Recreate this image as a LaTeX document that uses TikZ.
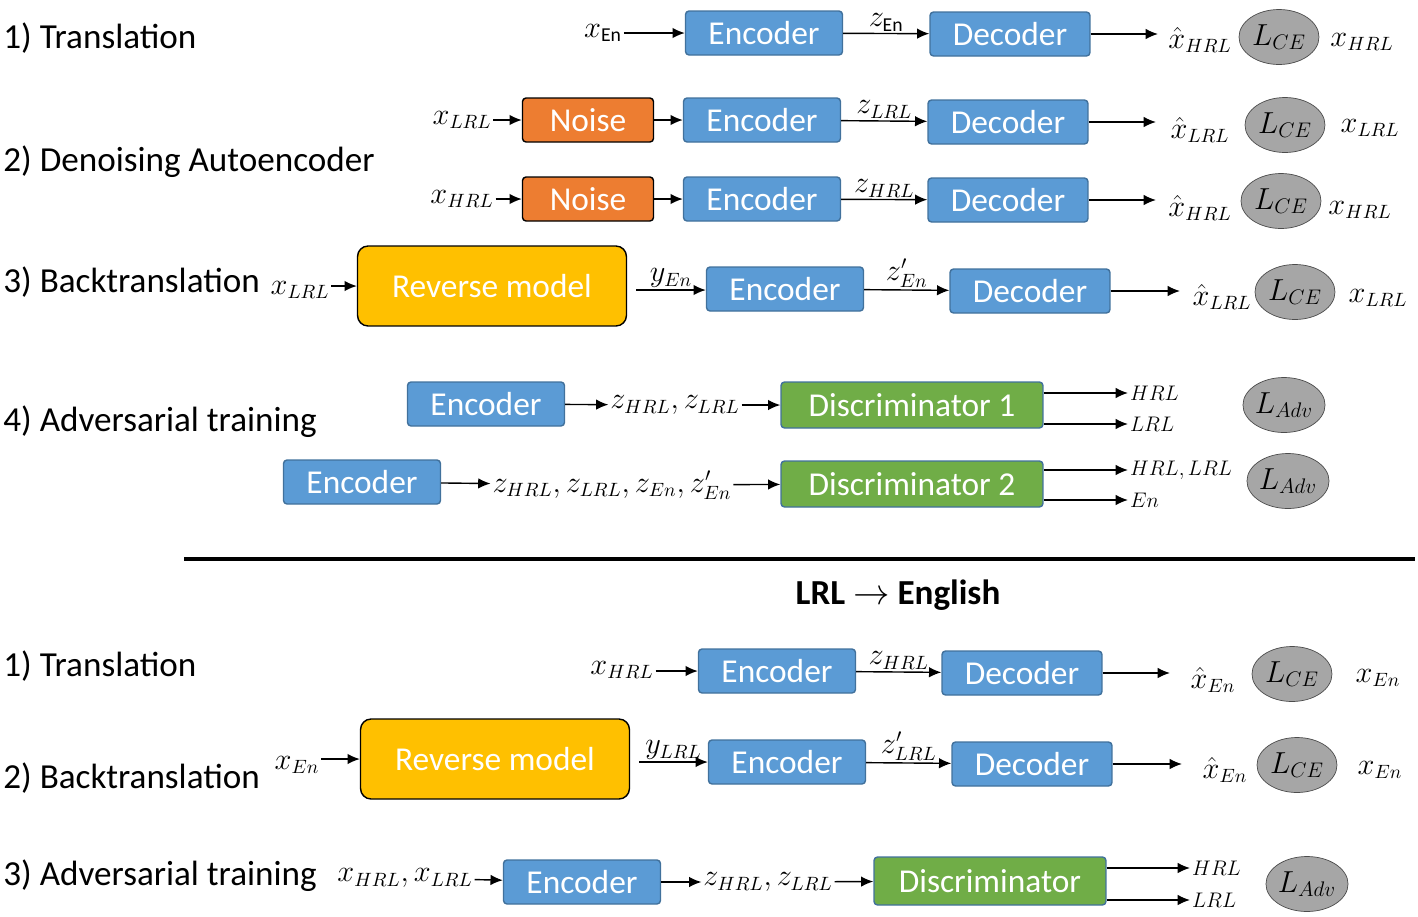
\documentclass[tikz,border=0pt]{standalone}
\usepackage{fontspec}
\setmainfont{Carlito}
\usetikzlibrary{positioning,arrows.meta,shapes.geometric}
\definecolor{encblue}{HTML}{5B9BD5}
\definecolor{encline}{HTML}{41719C}
\definecolor{noiseor}{HTML}{ED7D31}
\definecolor{revyel}{HTML}{FFC000}
\definecolor{discgr}{HTML}{70AD47}
\tikzset{
  box/.style={draw=encline,thick,fill=encblue,rounded corners=2pt,text=white,
    minimum width=3.14cm,minimum height=0.88cm,font=\fontsize{19}{22}\selectfont},
  noise/.style={box,fill=noiseor,draw=black,minimum width=2.62cm},
  rev/.style={box,fill=revyel,draw=black,rounded corners=6pt,minimum width=5.38cm,minimum height=1.6cm},
  disc/.style={box,fill=discgr,draw=encline,minimum width=5.24cm,minimum height=0.92cm},
  loss/.style={ellipse,draw=black!70,fill=black!35,minimum width=1.6cm,minimum height=1.1cm,inner sep=0pt,font=\fontsize{17}{20}\selectfont},
  lab/.style={inner sep=1pt,font=\fontsize{16}{19}\selectfont},
  cls/.style={anchor=west,inner sep=1pt,font=\fontsize{13}{15}\selectfont},
  steplab/.style={anchor=west,inner sep=0pt,font=\fontsize{20}{24}\selectfont},
  arr/.style={-{Latex[length=7pt,width=6pt]},thick}
}
\begin{document}
\begin{tikzpicture}[x=0.02cm,y=-0.02cm]
  \useasboundingbox (0,0) rectangle (1418,917);
  % upper half
  \node[steplab] (t1) at (3,38) {1) Translation};
  \node[lab] (xen1) at (603,33) {$x_{\mathrm{En}}$};
  \node[box] (enc1) at (764,33) {Encoder};
  \node[box,minimum width=3.2cm] (dec1) at (1010,34) {Decoder};
  \node[lab] (hx1) at (1200,40) {$\hat{x}_{HRL}$};
  \node[loss] (l1) at (1279,37) {$L_{CE}$};
  \node[lab] (x1) at (1362,42) {$x_{HRL}$};
  \coordinate (o1) at (1158,34);
  \draw[arr] (xen1.east|-enc1) -- (enc1);
  \draw[arr] (enc1) -- node[lab,above] {$z_{\mathrm{En}}$} (dec1);
  \draw[arr] (dec1) -- (o1);

  \node[steplab] (t2) at (3,162) {2) Denoising Autoencoder};
  \node[lab] (xl2) at (462,120) {$x_{LRL}$};
  \node[noise] (n2) at (588,120) {Noise};
  \node[box] (enc2) at (762,120) {Encoder};
  \node[box,minimum width=3.2cm] (dec2) at (1008,122) {Decoder};
  \node[lab] (hx2) at (1200,130) {$\hat{x}_{LRL}$};
  \node[loss] (l2) at (1285,125) {$L_{CE}$};
  \node[lab] (x2) at (1370,128) {$x_{LRL}$};
  \coordinate (o2) at (1156,122);
  \draw[arr] (xl2) -- (n2);
  \draw[arr] (n2) -- (enc2);
  \draw[arr] (enc2) -- node[lab,above] {$z_{LRL}$} (dec2);
  \draw[arr] (dec2) -- (o2);

  \node[lab] (xh3) at (462,199) {$x_{HRL}$};
  \node[noise] (n3) at (588,199) {Noise};
  \node[box] (enc3) at (762,199) {Encoder};
  \node[box,minimum width=3.2cm] (dec3) at (1008,200) {Decoder};
  \node[lab] (hx3) at (1200,208) {$\hat{x}_{HRL}$};
  \node[loss] (l3) at (1281,201) {$L_{CE}$};
  \node[lab] (x3) at (1360,210) {$x_{HRL}$};
  \coordinate (o3) at (1156,200);
  \draw[arr] (xh3) -- (n3);
  \draw[arr] (n3) -- (enc3);
  \draw[arr] (enc3) -- node[lab,above] {$z_{HRL}$} (dec3);
  \draw[arr] (dec3) -- (o3);

  \node[steplab] (t3) at (3,282) {3) Backtranslation};
  \node[lab] (xl4) at (300,290) {$x_{LRL}$};
  \node[rev] (r4) at (492,286) {Reverse model};
  \node[box] (enc4) at (785,289) {Encoder};
  \node[box,minimum width=3.2cm] (dec4) at (1030,291) {Decoder};
  \node[lab] (hx4) at (1222,297) {$\hat{x}_{LRL}$};
  \node[loss] (l4) at (1295,292) {$L_{CE}$};
  \node[lab] (x4) at (1378,298) {$x_{LRL}$};
  \coordinate (o4) at (1180,291);
  \coordinate (r4o) at (636,290);
  \draw[arr] (xl4.east|-r4) -- (r4);
  \draw[arr] (r4o) -- node[lab,above] {$y_{En}$} (enc4.west|-r4o);
  \draw[arr] (enc4) -- node[lab,above] {$z'_{En}$} (dec4);
  \draw[arr] (dec4) -- (o4);

  \node[steplab] (t4) at (3,422) {4) Adversarial training};
  \node[box] (enc5) at (486,404) {Encoder};
  \node[lab] (z5) at (675,405) {$z_{HRL},z_{LRL}$};
  \node[disc] (d5) at (912,405) {Discriminator 1};
  \node[cls] (c5a) at (1128,393) {$HRL$};
  \node[cls] (c5b) at (1128,424) {$LRL$};
  \node[loss] (l5) at (1284,405) {$L_{Adv}$};
  \draw[arr] (enc5) -- (z5);
  \draw[arr] (z5) -- (d5);
  \draw[arr] (d5.east|-c5a) -- (c5a);
  \draw[arr] (d5.east|-c5b) -- (c5b);

  \node[box] (enc6) at (362,482) {Encoder};
  \node[lab] (z6) at (612,485) {$z_{HRL},z_{LRL},z_{En},z'_{En}$};
  \node[disc] (d6) at (912,484) {Discriminator 2};
  \node[cls] (c6a) at (1128,470) {$HRL,LRL$};
  \node[cls] (c6b) at (1128,500) {$En$};
  \node[loss] (l6) at (1288,481) {$L_{Adv}$};
  \draw[arr] (enc6) -- (z6);
  \draw[arr] (z6) -- (d6);
  \draw[arr] (d6.east|-c6a) -- (c6a);
  \draw[arr] (d6.east|-c6b) -- (c6b);

  \draw[line width=2pt] (184,559) -- (1415,559);
  \node[font=\fontsize{20}{24}\selectfont\bfseries] (head) at (898,595) {LRL $\rightarrow$ English};

  % lower half
  \node[steplab] (b1) at (3,666) {1) Translation};
  \node[lab] (xh7) at (622,670) {$x_{HRL}$};
  \node[box] (enc7) at (777,671) {Encoder};
  \node[box,minimum width=3.2cm] (dec7) at (1022,673) {Decoder};
  \node[lab] (hx7) at (1213,680) {$\hat{x}_{En}$};
  \node[loss] (l7) at (1292,674) {$L_{CE}$};
  \node[lab] (x7) at (1378,678) {$x_{En}$};
  \coordinate (o7) at (1170,673);
  \draw[arr] (xh7.east|-enc7) -- (enc7);
  \draw[arr] (enc7) -- node[lab,above] {$z_{HRL}$} (dec7);
  \draw[arr] (dec7) -- (o7);

  \node[steplab] (b2) at (3,778) {2) Backtranslation};
  \node[lab] (xe8) at (297,765) {$x_{En}$};
  \node[rev] (r8) at (495,759) {Reverse model};
  \node[box] (enc8) at (787,762) {Encoder};
  \node[box,minimum width=3.2cm] (dec8) at (1032,764) {Decoder};
  \node[lab] (hx8) at (1225,770) {$\hat{x}_{En}$};
  \node[loss] (l8) at (1297,765) {$L_{CE}$};
  \node[lab] (x8) at (1380,770) {$x_{En}$};
  \coordinate (o8) at (1182,764);
  \coordinate (r8o) at (639,762);
  \draw[arr] (xe8.east|-r8) -- (r8);
  \draw[arr] (r8o) -- node[lab,above] {$y_{LRL}$} (enc8.west|-r8o);
  \draw[arr] (enc8) -- node[lab,above] {$z'_{LRL}$} (dec8);
  \draw[arr] (dec8) -- (o8);

  \node[steplab] (b3) at (3,876) {3) Adversarial training};
  \node[lab] (x9) at (405,878) {$x_{HRL},x_{LRL}$};
  \node[box] (enc9) at (582,882) {Encoder};
  \node[lab] (z9) at (768,882) {$z_{HRL},z_{LRL}$};
  \node[disc,minimum width=4.64cm,minimum height=0.96cm] (d9) at (990,881) {Discriminator};
  \node[cls] (c9a) at (1190,868) {$HRL$};
  \node[cls] (c9b) at (1190,900) {$LRL$};
  \node[loss] (l9) at (1307,884) {$L_{Adv}$};
  \draw[arr] (x9) -- (enc9);
  \draw[arr] (enc9) -- (z9);
  \draw[arr] (z9) -- (d9);
  \draw[arr] (d9.east|-c9a) -- (c9a);
  \draw[arr] (d9.east|-c9b) -- (c9b);
\end{tikzpicture}
\end{document}
